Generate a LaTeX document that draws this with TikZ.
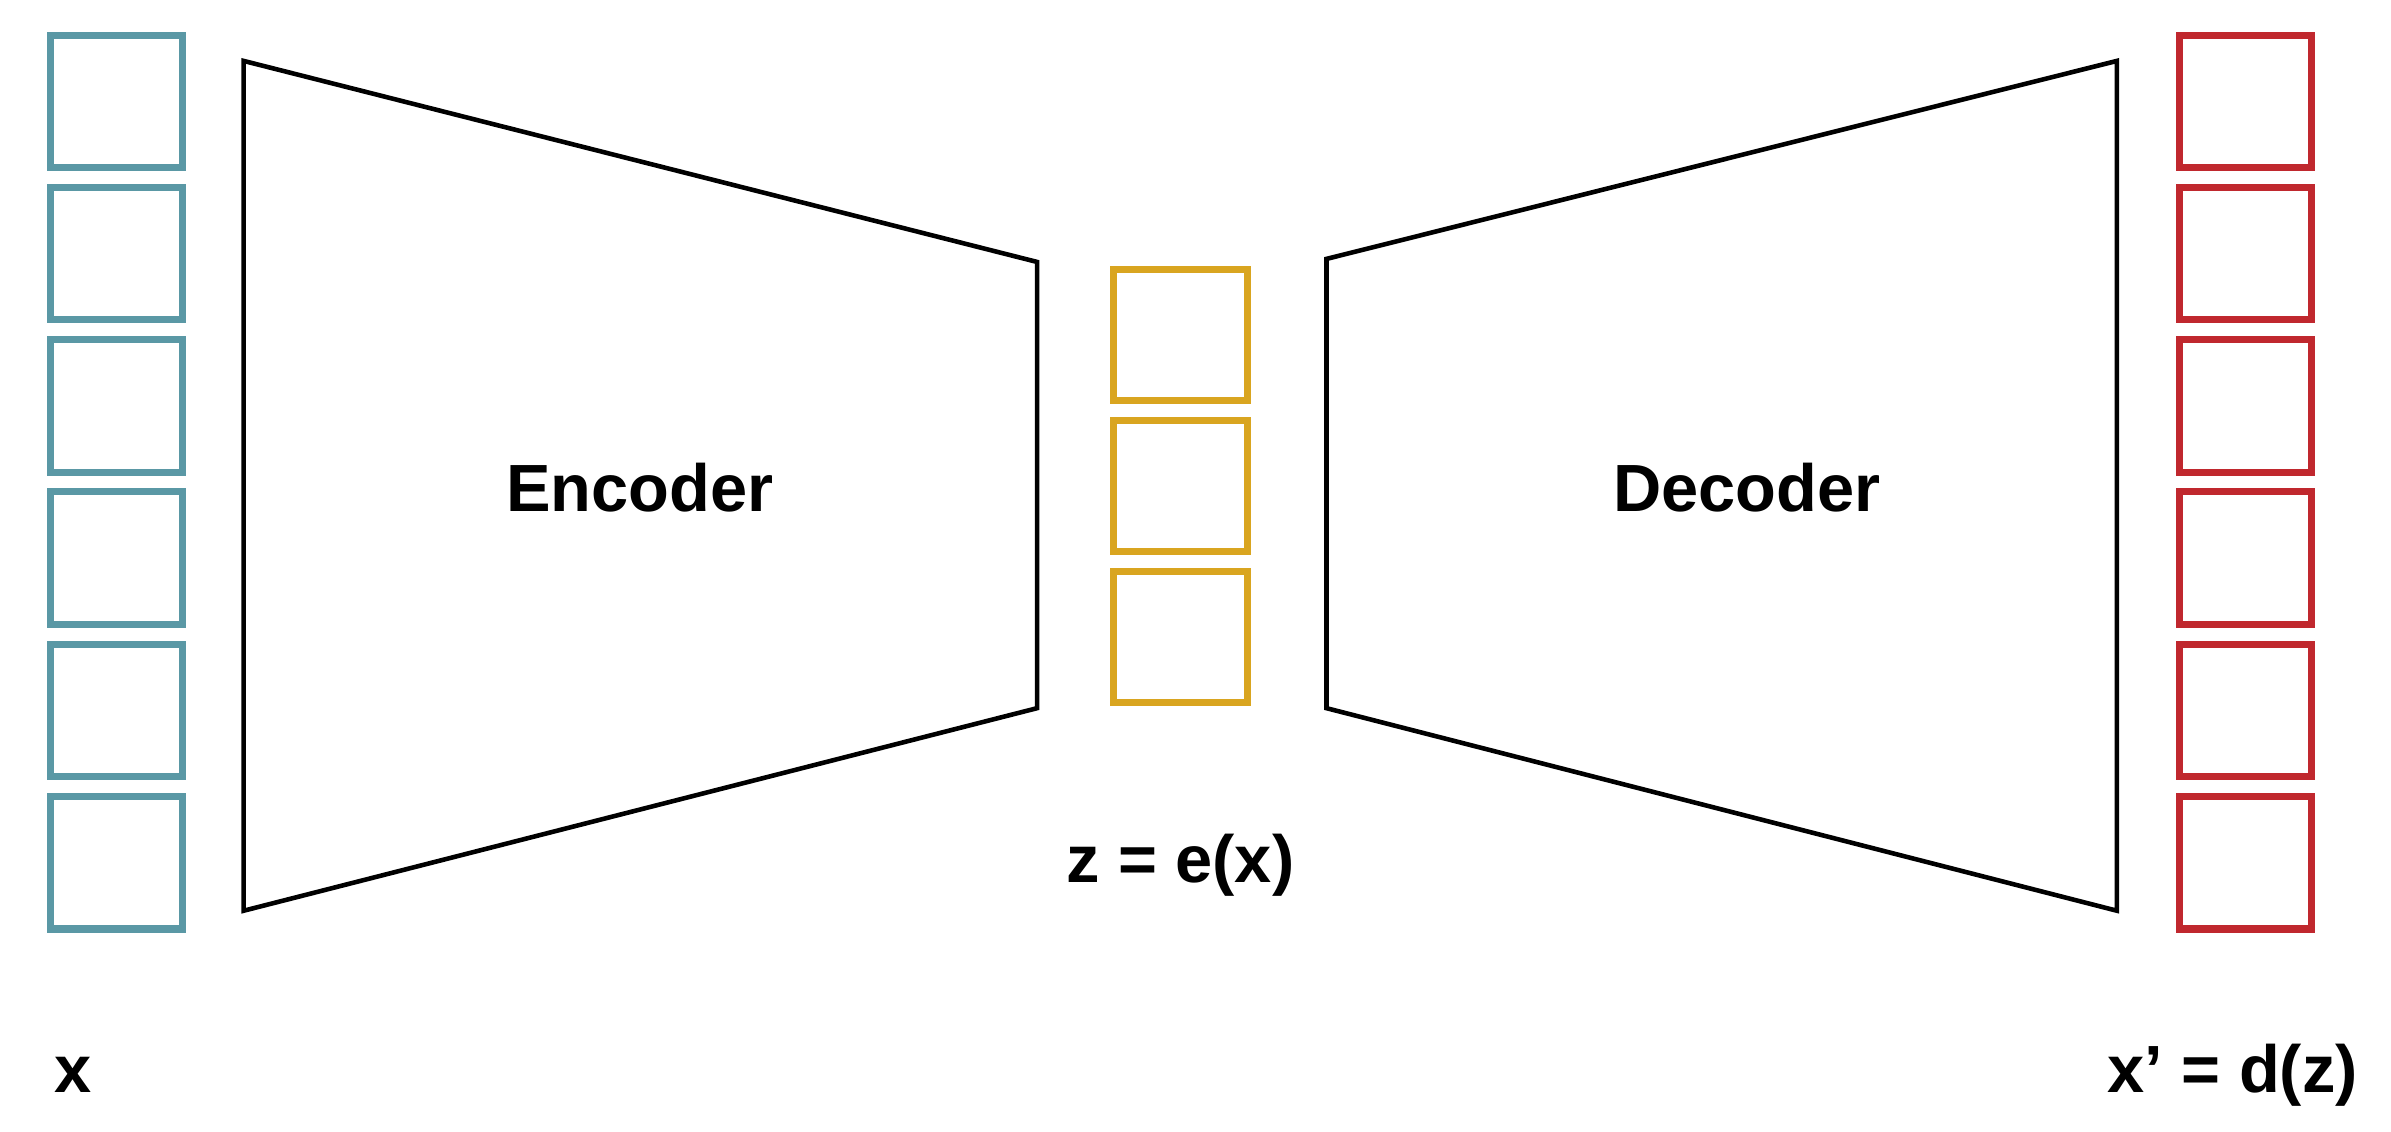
\documentclass[tikz,border=0pt]{standalone}
\usepackage{fontspec}
\setmainfont{Liberation Sans}
\definecolor{cin}{HTML}{5A98A5}
\definecolor{clat}{HTML}{D9A520}
\definecolor{cout}{HTML}{C0282E}
\begin{document}
\begin{tikzpicture}[x=0.01523cm,y=-0.01523cm,
  cell/.style={line width=2pt},
  net/.style={draw=black,line width=1.3pt,line join=miter},
  lbl/.style={font=\fontsize{19}{22}\selectfont\bfseries,inner sep=0pt}]
\useasboundingbox (0,0) rectangle (1570,743);
\foreach \y [count=\i] in {23,123,223,323,423,523}{
  \draw[cell,cin] (33,\y) rectangle (120,\y+87) coordinate (in\i);
  \draw[cell,cout] (1431,\y) rectangle (1518,\y+87) coordinate (out\i);
}
\foreach \y [count=\i] in {177,276,375}{
  \draw[cell,clat] (731,\y) rectangle (819,\y+86) coordinate (z\i);
}
\draw[net] (160,40) coordinate (e1) -- (681,172) -- (681,465) -- (160,598) -- cycle;
\draw[net] (871,170) coordinate (d1) -- (1390,40) -- (1390,598) -- (871,465) -- cycle;
\node[lbl] (enc) at (420,320) {Encoder};
\node[lbl] (dec) at (1147,320) {Decoder};
\node[lbl] (zl) at (775,568) {z = e(x)};
\node[lbl] (xl) at (48,706) {x};
\node[lbl] (xpl) at (1466,706) {x’ = d(z)};
\end{tikzpicture}
\end{document}
